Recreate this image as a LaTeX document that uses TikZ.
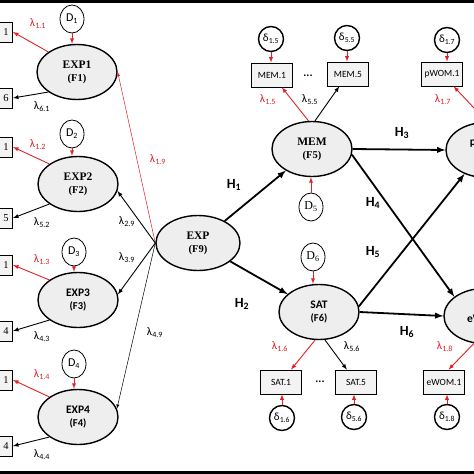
\documentclass[tikz,border=0pt]{standalone}
\usepackage{fontspec}
\setmainfont{Liberation Serif}
\newfontfamily\calib{Carlito}
\usepackage{tikz}
\usetikzlibrary{shapes.geometric}
\definecolor{lred}{RGB}{226,32,38}
\definecolor{latfill}{RGB}{238,238,238}
\definecolor{boxfill}{RGB}{243,243,243}
\tikzset{every picture/.style={x=1pt,y=-1pt}}
\tikzset{
  latent/.style={ellipse, draw, line width=1.4pt, fill=latfill, minimum width=80pt, minimum height=55pt, inner sep=0pt, align=center},
  latserif/.style={font=\bfseries\fontsize{11.5}{13}\selectfont},
  latsans/.style={font=\calib\bfseries\fontsize{11.5}{13}\selectfont},
  dcirc/.style={ellipse, draw, line width=0.8pt, fill=white, minimum width=24pt, minimum height=28pt, inner sep=0pt, font=\calib\fontsize{12}{13}\selectfont},
  ecirc/.style={circle, draw, line width=1.4pt, fill=white, minimum size=25pt, inner sep=0pt, font=\calib\fontsize{11}{12}\selectfont},
  obsbox/.style={rectangle, draw, line width=0.8pt, fill=boxfill, minimum width=41pt, minimum height=24pt, inner sep=1pt, font=\calib\fontsize{9.5}{11}\selectfont},
  leftbox/.style={rectangle, draw, line width=0.8pt, fill=boxfill, anchor=east, text width=30pt, align=right, inner xsep=4pt, minimum height=20pt, font=\fontsize{10.5}{12}\selectfont},
  ldg/.style={-latex, line width=0.9pt},
  redldg/.style={ldg, color=lred},
  hyp/.style={-latex, line width=1.8pt},
  lab/.style={font=\calib\fontsize{11.5}{13}\selectfont},
  redlab/.style={lab, text=lred},
  hlab/.style={font=\calib\bfseries\fontsize{14}{16}\selectfont}
}

\begin{document}
\begin{tikzpicture}
    \useasboundingbox (0,0) rectangle (474,474);
    \fill[black] (0,0) rectangle (474,2.5);
    \fill[black] (0,471) rectangle (474,474);

    % EXP1
    \node[dcirc] (d1) at (72,19) {D\textsubscript{1}};
    \node[latent, latserif] (e1) at (77,72) {EXP1\\{\fontsize{10.5}{13}\selectfont(F1)}};
    \node[leftbox] (x11) at (13,32) {1};
    \node[leftbox] (x61) at (13,98) {6};
    \draw[redldg] (d1) -- (d1 |- e1.north);
    \draw[redldg] (e1.145) -- (x11.east);
    \draw[ldg] (e1.215) -- (x61.east);
    \node[redlab] (l11) at (38,24) {λ\textsubscript{1.1}};
    \node[lab] (l61) at (42,107) {λ\textsubscript{6.1}};

    % EXP2
    \node[dcirc] (d2) at (72,134) {D\textsubscript{2}};
    \node[latent, latserif] (e2) at (78,184) {EXP2\\{\fontsize{10.5}{13}\selectfont(F2)}};
    \node[leftbox] (x12) at (13,147) {1};
    \node[leftbox] (x52) at (13,218) {5};
    \draw[redldg] (d2) -- (d2 |- e2.north);
    \draw[redldg] (e2.145) -- (x12.east);
    \draw[ldg] (e2.215) -- (x52.east);
    \node[redlab] (l12) at (38,145) {λ\textsubscript{1.2}};
    \node[lab] (l52) at (42,223) {λ\textsubscript{5.2}};

    % EXP3
    \node[dcirc] (d3) at (74,252) {D\textsubscript{3}};
    \node[latent, latsans] (e3) at (78,300) {EXP3\\{\fontsize{10.5}{13}\selectfont(F3)}};
    \node[leftbox] (x13) at (13,265) {1};
    \node[leftbox] (x43) at (13,331) {4};
    \draw[redldg] (d3) -- (d3 |- e3.north);
    \draw[redldg] (e3.145) -- (x13.east);
    \draw[ldg] (e3.215) -- (x43.east);
    \node[redlab] (l13) at (42,260) {λ\textsubscript{1.3}};
    \node[lab] (l43) at (42,337) {λ\textsubscript{4.3}};

    % EXP4
    \node[dcirc] (d4) at (74,364) {D\textsubscript{4}};
    \node[latent, latsans] (e4) at (78,417) {EXP4\\{\fontsize{10.5}{13}\selectfont(F4)}};
    \node[leftbox] (x14) at (13,380) {1};
    \node[leftbox] (x44) at (13,446) {4};
    \draw[redldg] (d4) -- (d4 |- e4.north);
    \draw[redldg] (e4.145) -- (x14.east);
    \draw[ldg] (e4.215) -- (x44.east);
    \node[redlab] (l14) at (42,375) {λ\textsubscript{1.4}};
    \node[lab] (l44) at (42,455) {λ\textsubscript{4.4}};

    % second order EXP
    \node[latent, latserif, minimum width=84pt] (exp) at (198,243) {EXP\\{\fontsize{10.5}{13}\selectfont(F9)}};
    \draw[redldg, line width=0.5pt] (exp.west) -- (e1.east);
    \draw[ldg] (exp.west) -- (e2.350);
    \draw[ldg] (exp.west) -- (e3.8);
    \draw[ldg, line width=0.5pt] (exp.west) -- (e4.12);
    \node[redlab] (l19) at (158,160) {λ\textsubscript{1.9}};
    \node[lab] (l29) at (127,222) {λ\textsubscript{2.9}};
    \node[lab] (l39) at (127,258) {λ\textsubscript{3.9}};
    \node[lab] (l49) at (155,333) {λ\textsubscript{4.9}};

    % MEM
    \node[latent, latserif] (mem) at (312,149) {MEM\\{\fontsize{10.5}{13}\selectfont(F5)}};
    \node[dcirc, font=\fontsize{12}{13}\selectfont] (d5) at (311,207) {D\textsubscript{5}};
    \draw[redldg] (d5) -- (d5 |- mem.south);
    \node[obsbox] (m1) at (272,75) {MEM.1};
    \node[obsbox] (m5) at (348,74) {MEM.5};
    \node[lab] (mdots) at (308,76) {\textbf{...}};
    \node[ecirc] (dm1) at (271,39) {δ\textsubscript{1.5}};
    \node[ecirc] (dm5) at (347,38) {δ\textsubscript{5.5}};
    \draw[redldg] (dm1) -- (dm1 |- m1.north);
    \draw[redldg] (dm5) -- (dm5 |- m5.north);
    \draw[redldg] (mem.97) -- (m1);
    \draw[ldg] (mem.84) -- (m5);
    \node[redlab] (l15) at (268,100) {λ\textsubscript{1.5}};
    \node[lab] (l55) at (310,100) {λ\textsubscript{5.5}};

    % SAT
    \node[latent, latsans] (sat) at (319,312) {SAT\\{\fontsize{10.5}{13}\selectfont(F6)}};
    \node[dcirc, font=\fontsize{12}{13}\selectfont] (d6) at (313,257) {D\textsubscript{6}};
    \draw[redldg] (d6) -- (d6 |- sat.north);
    \node[obsbox] (s1) at (281,382) {SAT.1};
    \node[obsbox] (s5) at (356,382) {SAT.5};
    \node[lab] (sdots) at (320,382) {\textbf{...}};
    \node[ecirc] (ds1) at (282,418) {δ\textsubscript{1.6}};
    \node[ecirc] (ds5) at (354,417) {δ\textsubscript{5.6}};
    \draw[redldg] (ds1) -- (ds1 |- s1.south);
    \draw[redldg] (ds5) -- (ds5 |- s5.south);
    \draw[redldg] (sat.262) -- (s1);
    \draw[ldg] (sat.282) -- (s5);
    \node[redlab] (l16) at (280,347) {λ\textsubscript{1.6}};
    \node[lab] (l56) at (352,347) {λ\textsubscript{5.6}};

    % pWOM
    \node[latent] (pw) at (486,150) {};
    \node[latsans] (pwt) at (487,143) {pWOM};
    \node[obsbox] (pw1) at (442,74) {pWOM.1};
    \node[ecirc] (dp1) at (447,40) {δ\textsubscript{1.7}};
    \draw[redldg] (dp1) -- (dp1 |- pw1.north);
    \draw[redldg] (pw.88) -- (pw1);
    \node[redlab] (l17) at (443,100) {λ\textsubscript{1.7}};

    % eWOM
    \node[latent] (ew) at (484,316) {};
    \node[latsans] (ewt) at (484,319) {eWOM};
    \node[obsbox] (ew1) at (444,382) {eWOM.1};
    \node[ecirc] (de1) at (447,417) {δ\textsubscript{1.8}};
    \draw[redldg] (de1) -- (de1 |- ew1.south);
    \draw[redldg] (ew.250) -- (ew1.70);
    \node[redlab] (l18) at (445,347) {λ\textsubscript{1.8}};

    % hypotheses
    \draw[hyp] (exp) -- (mem);
    \draw[hyp] (exp) -- (sat);
    \draw[hyp] (mem.east) -- (pw.west);
    \draw[hyp] (mem.-8) -- (ew.147);
    \draw[hyp] (sat.8) -- (pw.228);
    \draw[hyp] (sat.east) -- (ew.west);
    \node[hlab] (h1) at (234,185) {H\textsubscript{1}};
    \node[hlab] (h2) at (242,304) {H\textsubscript{2}};
    \node[hlab] (h3) at (402,133) {H\textsubscript{3}};
    \node[hlab] (h4) at (373,203) {H\textsubscript{4}};
    \node[hlab] (h5) at (373,252) {H\textsubscript{5}};
    \node[hlab] (h6) at (407,332) {H\textsubscript{6}};
\end{tikzpicture}
\end{document}
